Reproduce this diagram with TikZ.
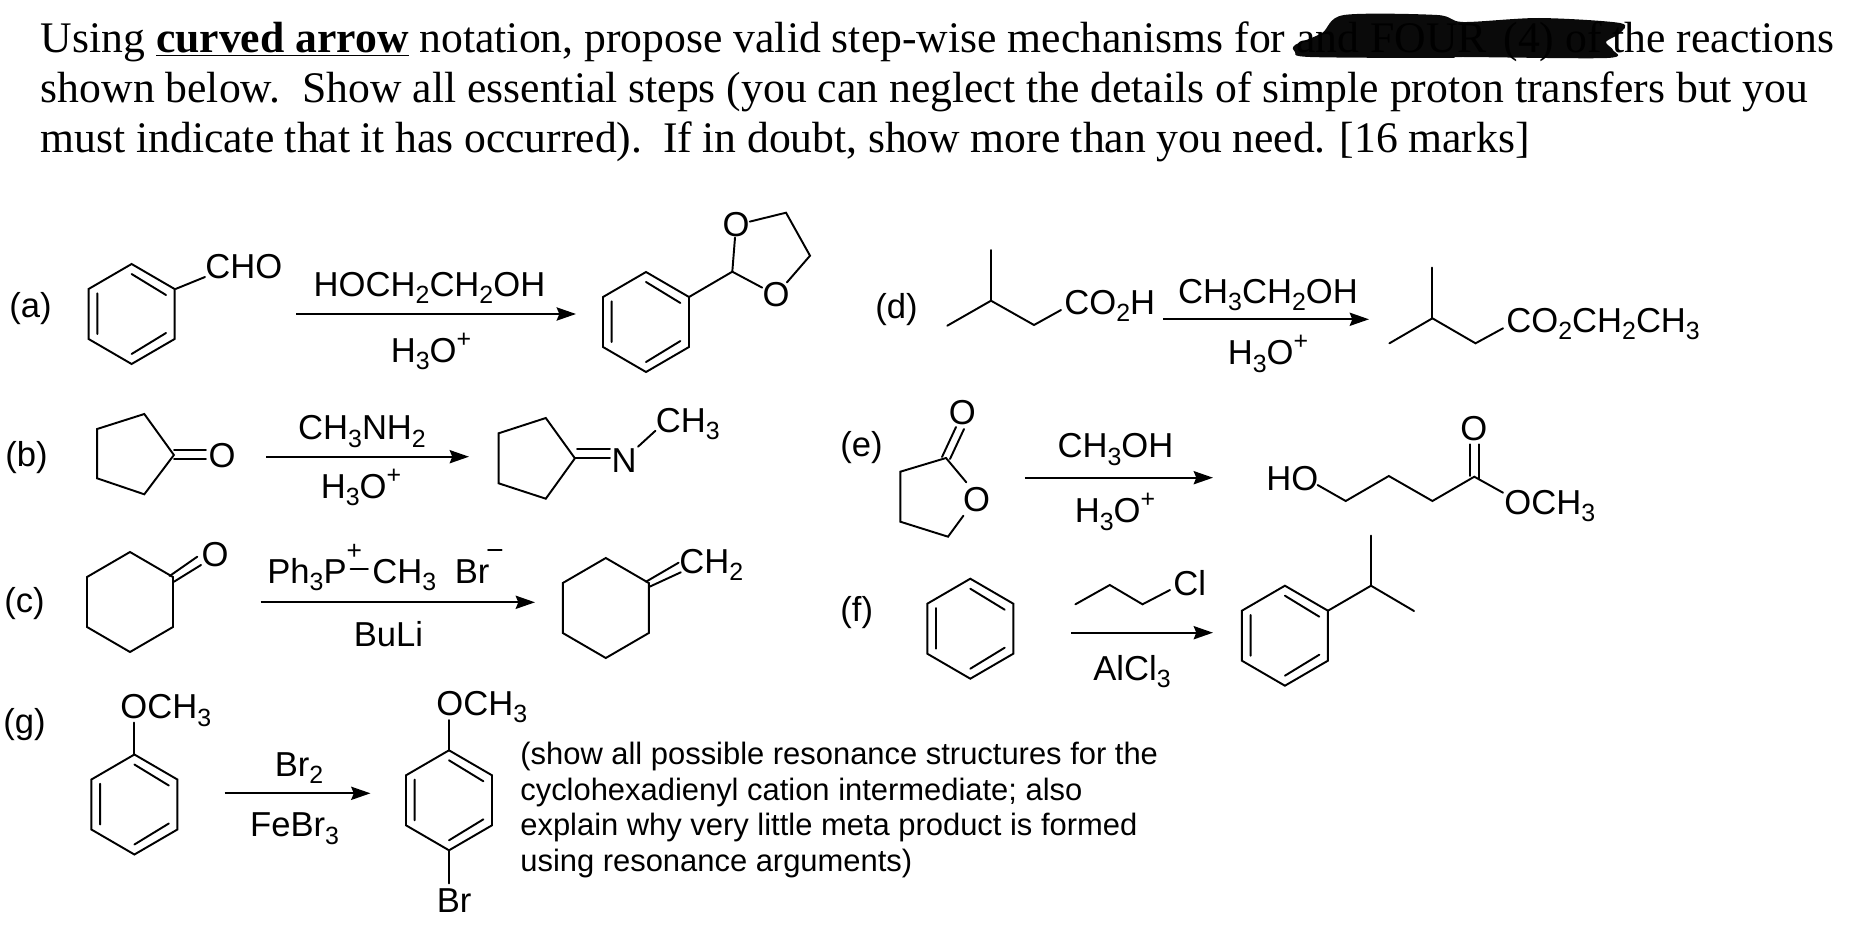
\documentclass[tikz,border=0pt]{standalone}
\usepackage{fontspec}
\usepackage{graphicx}
\setmainfont{Liberation Serif}
\newfontfamily\lsans{Liberation Sans}
\usetikzlibrary{arrows.meta}
\newcommand\dn[1]{\raisebox{-0.22em}{\scalebox{0.72}{#1}}}
\newcommand\up[1]{\raisebox{0.42em}{\scalebox{0.72}{#1}}}
\newcommand\hexa{(0,-50) -- (43,-25) -- (43,25) -- (0,50) -- (-43,25) -- (-43,-25) -- cycle}
\newcommand\benz[2]{\begin{scope}[shift={(#1,#2)}]
  \draw[bond] \hexa;
  \draw[bond] (0,-40) -- (34.4,-19) (0,40) -- (34.4,19) (-34.3,-20.7) -- (-34.3,20);
\end{scope}}
\newcommand\rxn[4]{\coordinate (#1s) at (#2,#4); \coordinate (#1e) at (#3,#4);
  \draw[rxnarrow] (#1s) -- (#1e);}
\tikzset{
  x=0.02cm,y=-0.02cm,
  bond/.style={line width=1.1pt,line join=miter,line cap=round,black},
  rxnarrow/.style={line width=1.2pt,black,-{Stealth[length=11pt,width=7.5pt,inset=1.5pt]}},
  chem/.style={font=\lsans\fontsize{19.7}{22}\selectfont,inner sep=0pt,anchor=base west},
  reag/.style={chem,anchor=base},
  atom/.style={chem,anchor=center},
  para/.style={font=\lsans\fontsize{17.6}{20.2}\selectfont,inner sep=0pt,anchor=north west,align=left},
  head/.style={font=\rmfamily\fontsize{24.85}{28.45}\selectfont,inner sep=0pt,anchor=north west,align=left},
}
\begin{document}
\begin{tikzpicture}
\useasboundingbox (0,0) rectangle (1865,946);
\fill[white] (0,0) rectangle (1865,946);
% heading
\node[head] (title) at (40.5,21.5) {Using \textbf{\underline{curved arrow}} notation, propose valid step-wise mechanisms for and FOUR\hspace{3.4pt} (4) of the reactions\\
shown below.\ \ Show all essential steps (you can neglect the details of simple proton transfers but you\\
{\spaceskip=5.95pt plus 0pt must indicate that it has occurred).\ \ If in doubt, show more than you need. [16 marks]}};
\fill[black,opacity=0.96,line join=round] plot[smooth cycle,tension=0.5] coordinates {(1295,45) (1322,33) (1344,15) (1437,15) (1463,22) (1539,18) (1620,23) (1620,33) (1606,42) (1613,50) (1607,58) (1463,57) (1446,58) (1310,57) (1295,52)};
% (a)
\node[chem] (la) at (9,317) {(a)};
\benz{131.6}{314}
\node[chem] (cho) at (205,278) {CHO};
\draw[bond] (175.5,289) -- (205,277);
\rxn{ra}{296}{576}{314}
\node[reag] (ra1) at (429.5,296) {HOCH\dn{2}CH\dn{2}OH};
\node[reag] (ra2) at (431,362) {H\dn{3}O\up{+}};
\benz{646}{322}
\node[atom] (ao1) at (736,225) {O};
\node[atom] (ao2) at (776,295) {O};
\coordinate (ac) at (732.3,271.7);
\draw[bond] (689,297) -- (ac) -- (ao1);
\draw[bond] (ac) -- (ao2);
\draw[bond] (ao1) -- (786,212.7) -- (810,255.7) -- (ao2);
% (b)
\node[chem] (lb) at (5,466) {(b)};
\node[atom] (bo) at (222,456) {O};
\draw[bond] (144.3,414) -- (173.9,455) -- (144.3,494.3) -- (97.1,478.3) -- (97.1,429) -- cycle;
\draw[bond] (174,450) -- (206,450) (174,459.3) -- (206,459.3);
\rxn{rb}{266}{469}{456.7}
\node[reag] (rb1) at (362,439.5) {CH\dn{3}NH\dn{2}};
\node[reag] (rb2) at (361,498) {H\dn{3}O\up{+}};
\draw[bond] (545.8,418) -- (574.9,458.3) -- (545.8,498.7) -- (498.6,483.3) -- (498.6,433.3) -- cycle;
\node[atom] (bn) at (624,460.7) {N};
\node[chem] (bme) at (655.5,432) {CH\dn{3}};
\draw[bond] (577,449) -- (610,449) (575,458.3) -- (610,458.3);
\draw[bond] (638,446.7) -- (655.5,430.7);
% (c)
\node[chem] (lc) at (4,612) {(c)};
\begin{scope}[shift={(130,602)}]\draw[bond] \hexa;\end{scope}
\node[atom] (co) at (215,555) {O};
\draw[bond] (169.6,576) -- (197.3,556.7) (174,581.7) -- (201,565);
\rxn{rc}{260.7}{535}{602.3}
\node[chem] (rc1) at (267,583) {Ph\dn{3}P};
\node[chem] (rc1b) at (372,583) {CH\dn{3}};
\node[chem] (rc1c) at (454.5,583) {Br};
\draw[bond] (350.7,569.3) -- (368,569.3);
\node[atom,font=\lsans\fontsize{15}{17}\selectfont] (cplus) at (354.3,551.7) {+};
\draw[bond] (488,550) -- (501.7,550);
\node[reag] (rc2) at (388.4,646) {BuLi};
\begin{scope}[shift={(605.8,608)}]\draw[bond] \hexa;\end{scope}
\draw[bond] (646,581.7) -- (678.6,562.7) (649.6,586.7) -- (680.8,572.3);
\node[chem] (cch) at (679,573) {CH\dn{2}};
% (d)
\node[chem] (ld) at (875,318) {(d)};
\draw[bond] (947.3,325.7) -- (991,300.7) -- (1034,325) -- (1061,310);
\draw[bond] (991,300.7) -- (991,250);
\node[chem] (dco) at (1064,314) {CO\dn{2}H};
\rxn{rd}{1163}{1369}{319.3}
\node[reag] (rd1) at (1268,303) {CH\dn{3}CH\dn{2}OH};
\node[reag] (rd2) at (1268,364.5) {H\dn{3}O\up{+}};
\draw[bond] (1389.4,343.3) -- (1432.4,318.3) -- (1475.5,343.3) -- (1503,328.3);
\draw[bond] (1432.4,318.3) -- (1432.4,267.7);
\node[chem] (dp) at (1506,332) {CO\dn{2}CH\dn{2}CH\dn{3}};
% (e)
\node[chem] (le) at (840,456) {(e)};
\node[atom] (eo1) at (962.3,412.3) {O};
\node[atom] (eo2) at (976.6,500) {O};
\draw[bond] (942,457) -- (956,427) (950,459) -- (964,429);
\draw[bond] (966.3,482.3) -- (946,458) -- (900.3,471.7) -- (900.3,521.7) -- (948,536.7) -- (963.4,515.7);
\rxn{re}{1024.8}{1213}{477.7}
\node[reag] (re1) at (1115.5,457.5) {CH\dn{3}OH};
\node[reag] (re2) at (1115,522.5) {H\dn{3}O\up{+}};
\node[chem] (eho) at (1266,490) {HO};
\draw[bond] (1317.6,485) -- (1345.7,501) -- (1388.8,476) -- (1432.4,501) -- (1474.3,476.7) -- (1503,492.7);
\draw[bond] (1469.7,444.3) -- (1469.7,476) (1479,444.3) -- (1479,479);
\node[atom] (eo3) at (1473.8,429) {O};
\node[chem] (eme) at (1504,514) {OCH\dn{3}};
% (f)
\node[chem] (lf) at (840,621) {(f)};
\benz{970.3}{628.7}
\draw[bond] (1075.4,604.3) -- (1109.8,585) -- (1142.5,604.3) -- (1170,590);
\node[chem] (fcl) at (1173,595) {Cl};
\rxn{rf}{1071.3}{1213}{632.7}
\node[reag] (rf2) at (1132,680) {AlCl\dn{3}};
\benz{1284.9}{635.7}
\draw[bond] (1328,610.7) -- (1371,585.7) -- (1414,611);
\draw[bond] (1371,585.7) -- (1371,535.7);
% (g)
\node[chem] (lg) at (3,733) {(g)};
\node[chem] (gm) at (120,718.5) {OCH\dn{3}};
\draw[bond] (134.4,722.7) -- (134.4,755);
\benz{134.4}{804.5}
\rxn{rg}{224.6}{370.5}{793.3}
\node[reag] (rg1) at (299,776) {Br\dn{2}};
\node[reag] (rg2) at (294.6,836.7) {FeBr\dn{3}};
\node[chem] (gm2) at (436,715) {OCH\dn{3}};
\draw[bond] (449,720) -- (449,750.7);
\benz{449}{800.3}
\draw[bond] (449,850) -- (449,883.3);
\node[chem] (gbr) at (436.5,912.7) {Br};
\node[para] (note) at (520,742) {(show all possible resonance structures for the\\
cyclohexadienyl cation intermediate; also\\
explain why very little meta product is formed\\
using resonance arguments)};
\end{tikzpicture}
\end{document}
